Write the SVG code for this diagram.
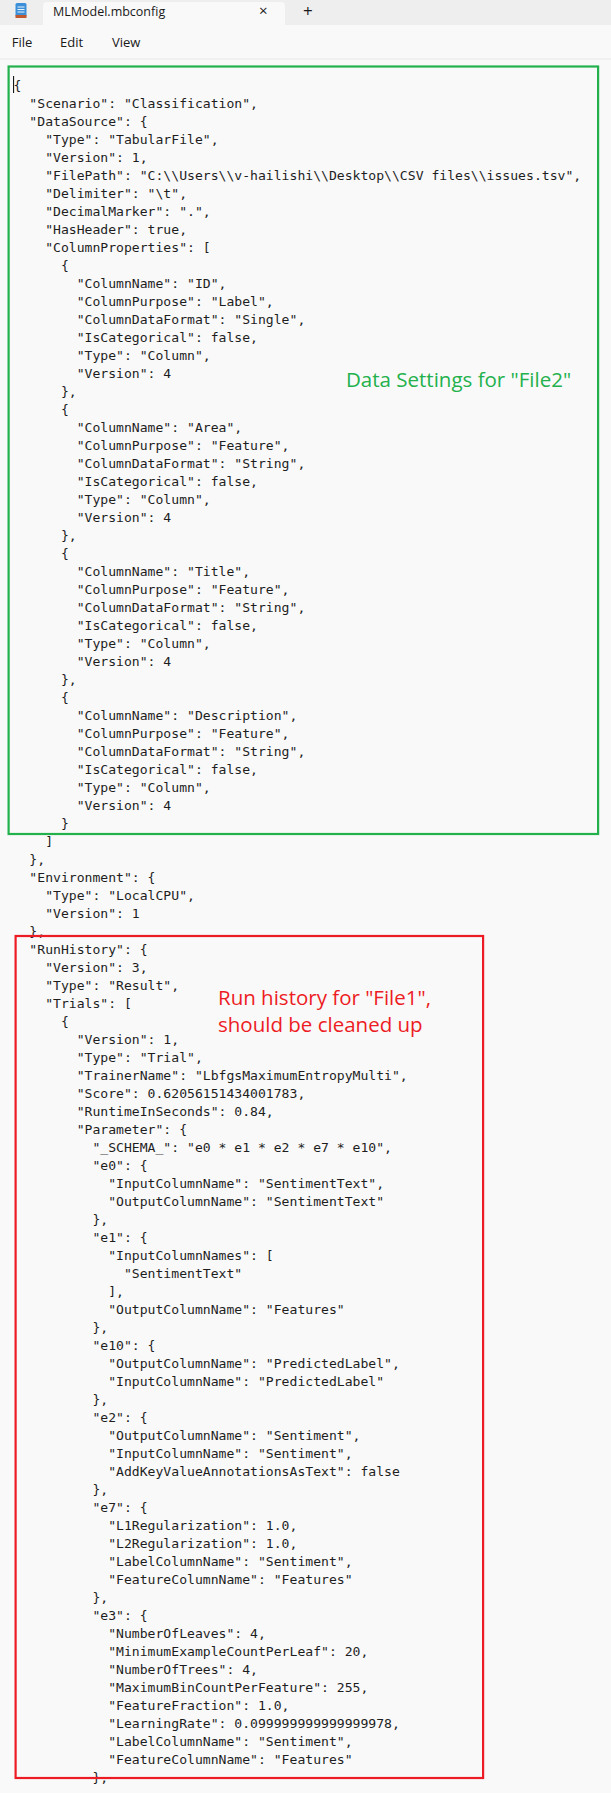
<svg xmlns="http://www.w3.org/2000/svg" width="611" height="1793" viewBox="0 0 611 1793">
<style>
.c{font-family:"DejaVu Sans Mono",monospace;font-size:13.1px;fill:#1e1e1e;white-space:pre}
.ui{font-family:"Open Sans","Liberation Sans",sans-serif;fill:#1a1a1a}
.lab{font-family:"Open Sans","Liberation Sans",sans-serif;font-size:20.5px}
</style>
<rect width="611" height="1793" fill="#f9f9f9"/>
<rect width="611" height="25" fill="#eeeeee"/>
<path d="M43 25 V6 Q43 2 47 2 H281 Q285 2 285 6 V25 Z" fill="#f9f9f9"/>
<g id="icon"><rect x="15.5" y="3" width="11" height="14" rx="1.5" fill="#3b8fd9"/><rect x="15.5" y="15" width="11" height="3" fill="#c0582f"/><path d="M17.5 7h7M17.5 9.5h7M17.5 12h7" stroke="#fff" stroke-width="0.9"/></g>
<text class="ui" x="53" y="15.5" font-size="12.5">MLModel.mbconfig</text>
<text class="ui" x="259" y="16" font-size="15">×</text>
<text class="ui" x="303" y="16.5" font-size="17">+</text>
<text class="ui" x="11.7" y="47" font-size="13">File</text>
<text class="ui" x="60" y="47" font-size="13">Edit</text>
<text class="ui" x="112" y="47" font-size="13">View</text>
<line x1="0" y1="59" x2="611" y2="59" stroke="#e8e8e8"/>
<g id="code">
<text class="c" x="13.6" y="89.5">{<tspan x="13.6" dy="18">  "Scenario": "Classification",</tspan><tspan x="13.6" dy="18">  "DataSource": {</tspan><tspan x="13.6" dy="18">    "Type": "TabularFile",</tspan><tspan x="13.6" dy="18">    "Version": 1,</tspan><tspan x="13.6" dy="18">    "FilePath": "C:\\Users\\v-hailishi\\Desktop\\CSV files\\issues.tsv",</tspan><tspan x="13.6" dy="18">    "Delimiter": "\t",</tspan><tspan x="13.6" dy="18">    "DecimalMarker": ".",</tspan><tspan x="13.6" dy="18">    "HasHeader": true,</tspan><tspan x="13.6" dy="18">    "ColumnProperties": [</tspan><tspan x="13.6" dy="18">      {</tspan><tspan x="13.6" dy="18">        "ColumnName": "ID",</tspan><tspan x="13.6" dy="18">        "ColumnPurpose": "Label",</tspan><tspan x="13.6" dy="18">        "ColumnDataFormat": "Single",</tspan><tspan x="13.6" dy="18">        "IsCategorical": false,</tspan><tspan x="13.6" dy="18">        "Type": "Column",</tspan><tspan x="13.6" dy="18">        "Version": 4</tspan><tspan x="13.6" dy="18">      },</tspan><tspan x="13.6" dy="18">      {</tspan><tspan x="13.6" dy="18">        "ColumnName": "Area",</tspan><tspan x="13.6" dy="18">        "ColumnPurpose": "Feature",</tspan><tspan x="13.6" dy="18">        "ColumnDataFormat": "String",</tspan><tspan x="13.6" dy="18">        "IsCategorical": false,</tspan><tspan x="13.6" dy="18">        "Type": "Column",</tspan><tspan x="13.6" dy="18">        "Version": 4</tspan><tspan x="13.6" dy="18">      },</tspan><tspan x="13.6" dy="18">      {</tspan><tspan x="13.6" dy="18">        "ColumnName": "Title",</tspan><tspan x="13.6" dy="18">        "ColumnPurpose": "Feature",</tspan><tspan x="13.6" dy="18">        "ColumnDataFormat": "String",</tspan><tspan x="13.6" dy="18">        "IsCategorical": false,</tspan><tspan x="13.6" dy="18">        "Type": "Column",</tspan><tspan x="13.6" dy="18">        "Version": 4</tspan><tspan x="13.6" dy="18">      },</tspan><tspan x="13.6" dy="18">      {</tspan><tspan x="13.6" dy="18">        "ColumnName": "Description",</tspan><tspan x="13.6" dy="18">        "ColumnPurpose": "Feature",</tspan><tspan x="13.6" dy="18">        "ColumnDataFormat": "String",</tspan><tspan x="13.6" dy="18">        "IsCategorical": false,</tspan><tspan x="13.6" dy="18">        "Type": "Column",</tspan><tspan x="13.6" dy="18">        "Version": 4</tspan><tspan x="13.6" dy="18">      }</tspan><tspan x="13.6" dy="18">    ]</tspan><tspan x="13.6" dy="18">  },</tspan><tspan x="13.6" dy="18">  "Environment": {</tspan><tspan x="13.6" dy="18">    "Type": "LocalCPU",</tspan><tspan x="13.6" dy="18">    "Version": 1</tspan><tspan x="13.6" dy="18">  },</tspan><tspan x="13.6" dy="18">  "RunHistory": {</tspan><tspan x="13.6" dy="18">    "Version": 3,</tspan><tspan x="13.6" dy="18">    "Type": "Result",</tspan><tspan x="13.6" dy="18">    "Trials": [</tspan><tspan x="13.6" dy="18">      {</tspan><tspan x="13.6" dy="18">        "Version": 1,</tspan><tspan x="13.6" dy="18">        "Type": "Trial",</tspan><tspan x="13.6" dy="18">        "TrainerName": "LbfgsMaximumEntropyMulti",</tspan><tspan x="13.6" dy="18">        "Score": 0.62056151434001783,</tspan><tspan x="13.6" dy="18">        "RuntimeInSeconds": 0.84,</tspan><tspan x="13.6" dy="18">        "Parameter": {</tspan><tspan x="13.6" dy="18">          "_SCHEMA_": "e0 * e1 * e2 * e7 * e10",</tspan><tspan x="13.6" dy="18">          "e0": {</tspan><tspan x="13.6" dy="18">            "InputColumnName": "SentimentText",</tspan><tspan x="13.6" dy="18">            "OutputColumnName": "SentimentText"</tspan><tspan x="13.6" dy="18">          },</tspan><tspan x="13.6" dy="18">          "e1": {</tspan><tspan x="13.6" dy="18">            "InputColumnNames": [</tspan><tspan x="13.6" dy="18">              "SentimentText"</tspan><tspan x="13.6" dy="18">            ],</tspan><tspan x="13.6" dy="18">            "OutputColumnName": "Features"</tspan><tspan x="13.6" dy="18">          },</tspan><tspan x="13.6" dy="18">          "e10": {</tspan><tspan x="13.6" dy="18">            "OutputColumnName": "PredictedLabel",</tspan><tspan x="13.6" dy="18">            "InputColumnName": "PredictedLabel"</tspan><tspan x="13.6" dy="18">          },</tspan><tspan x="13.6" dy="18">          "e2": {</tspan><tspan x="13.6" dy="18">            "OutputColumnName": "Sentiment",</tspan><tspan x="13.6" dy="18">            "InputColumnName": "Sentiment",</tspan><tspan x="13.6" dy="18">            "AddKeyValueAnnotationsAsText": false</tspan><tspan x="13.6" dy="18">          },</tspan><tspan x="13.6" dy="18">          "e7": {</tspan><tspan x="13.6" dy="18">            "L1Regularization": 1.0,</tspan><tspan x="13.6" dy="18">            "L2Regularization": 1.0,</tspan><tspan x="13.6" dy="18">            "LabelColumnName": "Sentiment",</tspan><tspan x="13.6" dy="18">            "FeatureColumnName": "Features"</tspan><tspan x="13.6" dy="18">          },</tspan><tspan x="13.6" dy="18">          "e3": {</tspan><tspan x="13.6" dy="18">            "NumberOfLeaves": 4,</tspan><tspan x="13.6" dy="18">            "MinimumExampleCountPerLeaf": 20,</tspan><tspan x="13.6" dy="18">            "NumberOfTrees": 4,</tspan><tspan x="13.6" dy="18">            "MaximumBinCountPerFeature": 255,</tspan><tspan x="13.6" dy="18">            "FeatureFraction": 1.0,</tspan><tspan x="13.6" dy="18">            "LearningRate": 0.099999999999999978,</tspan><tspan x="13.6" dy="18">            "LabelColumnName": "Sentiment",</tspan><tspan x="13.6" dy="18">            "FeatureColumnName": "Features"</tspan><tspan x="13.6" dy="18">          },</tspan></text>
<line x1="13.6" y1="76" x2="13.6" y2="93" stroke="#000" stroke-width="1"/>
</g>
<g id="green-box"><rect x="8.6" y="66.5" width="589.5" height="767.5" fill="none" stroke="#22b14c" stroke-width="2.2"/>
<text class="lab" x="346" y="387" fill="#22b14c">Data Settings for "File2"</text></g>
<g id="red-box"><rect x="15.6" y="936" width="467.5" height="842" fill="none" stroke="#ed1c24" stroke-width="2.2"/>
<text class="lab" x="218" y="1005" fill="#ed1c24">Run history for "File1",<tspan x="218" y="1032">should be cleaned up</tspan></text></g>
</svg>
